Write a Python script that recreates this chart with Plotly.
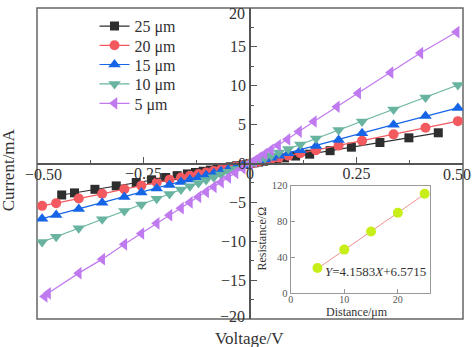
import plotly.graph_objects as go

# ---------------- data ----------------
labels = ["25 μm", "20 μm", "15 μm", "10 μm", "5 μm"]
colors = ["#2e2e2e", "#f25a60", "#1565e6", "#68b4a0", "#c07af0"]
symbols = ["square", "circle", "triangle-up", "triangle-down", "triangle-left"]
sizes = [9, 10, 11, 11, 11]

v_25 = [-0.442, -0.412, -0.364, -0.314, -0.267, -0.231, -0.198, -0.171, -0.147, -0.128, -0.110, -0.093,
        -0.077, -0.062, -0.046, -0.031, -0.015, 0.0, 0.009, 0.020, 0.032, 0.045, 0.062, 0.081, 0.107,
        0.140, 0.188, 0.238, 0.305, 0.373, 0.442]
i_25 = [-4.05, -3.78, -3.32, -2.88, -2.44, -2.10, -1.80, -1.56, -1.34, -1.16, -1.00, -0.85,
        -0.70, -0.56, -0.42, -0.28, -0.14, 0.0, 0.08, 0.18, 0.29, 0.40, 0.55, 0.72, 0.96,
        1.20, 1.65, 2.10, 2.70, 3.30, 3.95]

v_20 = [-0.488, -0.455, -0.402, -0.347, -0.295, -0.255, -0.219, -0.189, -0.162, -0.141, -0.121, -0.103,
        -0.085, -0.068, -0.051, -0.034, -0.017, 0.0, 0.010, 0.022, 0.035, 0.050, 0.068, 0.090, 0.118,
        0.155, 0.208, 0.263, 0.337, 0.412, 0.488]
i_20 = [-5.45, -5.10, -4.50, -3.90, -3.30, -2.85, -2.45, -2.10, -1.80, -1.57, -1.35, -1.15,
        -0.95, -0.76, -0.57, -0.38, -0.19, 0.0, 0.11, 0.25, 0.39, 0.56, 0.76, 1.00, 1.31,
        1.72, 2.30, 2.92, 3.75, 4.60, 5.45]

v_15 = v_20
i_15 = [-7.10, -6.62, -5.85, -5.05, -4.30, -3.72, -3.20, -2.76, -2.37, -2.06, -1.77, -1.50,
        -1.24, -0.99, -0.74, -0.50, -0.25, 0.0, 0.15, 0.32, 0.51, 0.73, 0.99, 1.31, 1.72,
        2.26, 3.03, 3.90, 5.00, 6.10, 7.15]

v_10 = v_20
i_10 = [-10.10, -9.42, -8.32, -7.18, -6.10, -5.28, -4.53, -3.91, -3.35, -2.92, -2.50, -2.13,
        -1.76, -1.41, -1.06, -0.70, -0.35, 0.0, 0.21, 0.46, 0.72, 1.04, 1.41, 1.86, 2.44,
        3.20, 4.30, 5.40, 6.95, 8.50, 10.10]

v_5 = [-0.482, -0.474, -0.402, -0.347, -0.295, -0.255, -0.219, -0.189, -0.162, -0.141, -0.121, -0.103,
       -0.085, -0.068, -0.051, -0.034, -0.017, 0.0, 0.010, 0.021, 0.034, 0.049, 0.066, 0.088, 0.115,
       0.150, 0.204, 0.254, 0.330, 0.400, 0.485]
i_5 = [-17.10, -16.70, -14.10, -12.30, -10.40, -9.00, -7.70, -6.65, -5.75, -5.00, -4.30, -3.65,
       -3.00, -2.40, -1.80, -1.20, -0.60, 0.0, 0.35, 0.75, 1.20, 1.75, 2.35, 3.10, 4.10,
       5.40, 7.30, 9.05, 11.70, 14.20, 16.90]

voltages = [v_25, v_20, v_15, v_10, v_5]
currents = [i_25, i_20, i_15, i_10, i_5]

x_ticks = [-0.25, 0, 0.25]
x_ticktext = ["−0.25", "0", "0.25"]
x_end_ticks = [-0.5, 0.5]
x_end_text = ["−0.50", "0.50"]
y_ticks = [-15, -10, -5, 0, 5, 10, 15]
y_ticktext = ["−15", "−10", "−5", "0", "5", "10", "15"]
y_end_ticks = [20, -20]
y_end_text = ["20", "−20"]

# inset: resistance vs distance
distance = [5, 10, 15, 20, 25]
resistance = [28.0, 48.6, 68.9, 89.8, 110.9]
fit_slope = 4.1583
fit_intercept = 6.5715
fit_x = [5, 25]
inset_xticks = [0, 10, 20]
inset_yticks = [0, 40, 80, 120]

FONT = "Liberation Serif"
AX = "#555555"
TXT = "#333333"

# plot-area geometry in pixels (for paper-coordinate conversions)
H, MT, PH = 347, 3, 316
def py(pix):
    return 1 - (pix - MT) / PH

legend_centers = [21.5, 41, 60.5, 80.2, 100]
legend_names = ["legend", "legend2", "legend3", "legend4", "legend5"]

fig = go.Figure()
for k, (v, i, lab, c, s, sz) in enumerate(zip(voltages, currents, labels, colors, symbols, sizes)):
    fig.add_trace(go.Scatter(
        x=v, y=i, mode="lines+markers", name=lab,
        line=dict(color=c, width=1.2),
        marker=dict(symbol=s, size=sz, color=c),
        xaxis="x", yaxis="y", legend=legend_names[k],
    ))

fit_y = [fit_slope * xv + fit_intercept for xv in fit_x]
fig.add_trace(go.Scatter(x=fit_x, y=fit_y, mode="lines", line=dict(color="#f09090", width=1),
                         showlegend=False, xaxis="x2", yaxis="y2"))
fig.add_trace(go.Scatter(x=distance, y=resistance, mode="markers",
                         marker=dict(symbol="circle", size=10, color="#c8ee1a"),
                         showlegend=False, xaxis="x2", yaxis="y2"))

legend_layout = {}
for name, yc in zip(legend_names, legend_centers):
    legend_layout[name] = dict(x=0.135, y=py(yc), xanchor="left", yanchor="middle",
                               bgcolor="rgba(0,0,0,0)", borderwidth=0,
                               font=dict(family=FONT, size=16, color=TXT))

fig.update_layout(
    width=474, height=347,
    margin=dict(l=37, r=11, t=MT, b=H - MT - PH),
    paper_bgcolor="white", plot_bgcolor="white",
    font=dict(family=FONT, size=16, color=TXT),
    showlegend=True,
    xaxis=dict(domain=[0, 1], range=[-0.5, 0.5], anchor="free", position=0.5,
               showline=True, linecolor=AX, linewidth=1.5,
               ticks="inside", ticklen=6, tickwidth=1.2, tickcolor=AX,
               tickvals=x_ticks, ticktext=x_ticktext, ticklabelstandoff=-4,
               minor=dict(tickvals=[-0.5, -0.375, -0.125, 0.125, 0.375, 0.5],
                          ticks="inside", ticklen=3, tickcolor=AX),
               showgrid=False, zeroline=False,
               tickfont=dict(family=FONT, size=16, color=TXT)),
    yaxis=dict(domain=[0, 1], range=[-20, 20], anchor="free", position=0.5,
               showline=True, linecolor=AX, linewidth=1.5,
               ticks="inside", ticklen=6, tickwidth=1.2, tickcolor=AX,
               tickvals=y_ticks, ticktext=y_ticktext,
               minor=dict(tickvals=[-17.5, -12.5, -7.5, -2.5, 2.5, 7.5, 12.5, 17.5],
                          ticks="inside", ticklen=3, tickcolor=AX),
               showgrid=False, zeroline=False,
               tickfont=dict(family=FONT, size=16, color=TXT)),
    xaxis2=dict(domain=[0.5955, 0.9225], range=[0, 26], anchor="y2",
                showline=True, mirror=True, linecolor="#999999", linewidth=1,
                ticks="inside", ticklen=4, tickcolor="#999999", ticklabelstandoff=-3,
                tickvals=inset_xticks, showgrid=False, zeroline=False,
                tickfont=dict(family=FONT, size=10, color="#555555")),
    yaxis2=dict(domain=[0.0832, 0.4288], range=[0, 120], anchor="x2",
                showline=True, mirror=True, linecolor="#999999", linewidth=1,
                ticks="inside", ticklen=4, tickcolor="#999999",
                tickvals=inset_yticks, showgrid=False, zeroline=False,
                tickfont=dict(family=FONT, size=10.5, color="#555555")),
    **legend_layout,
)

# outer frame
fig.add_shape(type="rect", xref="paper", yref="paper", x0=0, y0=0, x1=1, y1=1,
              line=dict(color="#666666", width=1.5), layer="below")

# end tick labels of the x axis, pulled inward as in the reference
for xv, txt, shift in zip(x_end_ticks, x_end_text, [6, -6.5]):
    fig.add_annotation(text=txt, xref="x", yref="paper", x=xv, y=py(172), xshift=shift,
                       xanchor="center", yanchor="middle", showarrow=False,
                       font=dict(family=FONT, size=16, color=TXT))
# end tick labels of the y axis, pulled inward as in the reference
for yv, txt, shift in zip(y_end_ticks, y_end_text, [-5.5, 2.5]):
    fig.add_annotation(text=txt, xref="paper", yref="y", x=0.5, y=yv, xshift=-3, yshift=shift,
                       xanchor="right", yanchor="middle", showarrow=False,
                       font=dict(family=FONT, size=16, color=TXT))

annots = [
    dict(text="Voltage/V", x=0.498, y=py(338.5), size=17, angle=0, xa="center"),
    dict(text="Current/mA", x=-0.066, y=py(167), size=17, angle=-90, xa="center"),
    dict(text="Distance/μm", x=0.7505, y=py(312), size=12, angle=0, xa="center"),
    dict(text="Resistance/Ω", x=0.5275, y=py(237.5), size=12, angle=-90, xa="center"),
    dict(text="<i>Y</i>=4.1583<i>X</i>+6.5715", x=0.6707, y=py(271), size=13, angle=0, xa="left"),
]
for a in annots:
    fig.add_annotation(text=a["text"], xref="paper", yref="paper", x=a["x"], y=a["y"],
                       xanchor=a["xa"], yanchor="middle", showarrow=False, textangle=a["angle"],
                       font=dict(family=FONT, size=a["size"], color=TXT))

fig.write_html("out.html")
